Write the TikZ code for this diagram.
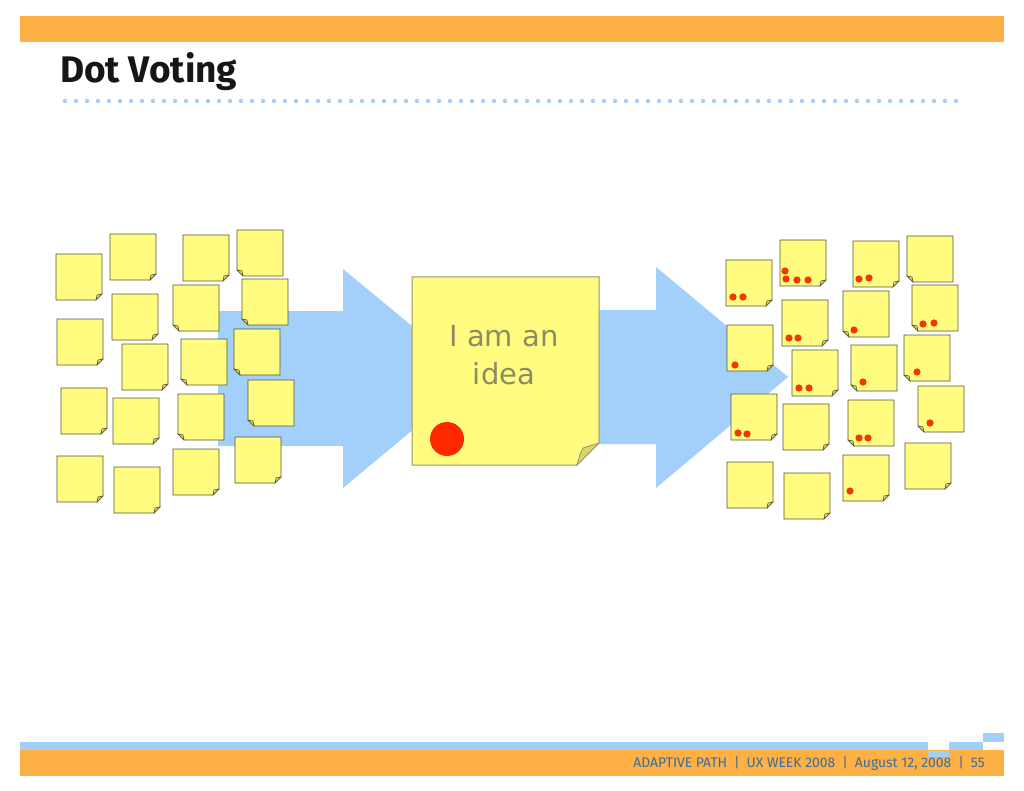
\documentclass[tikz,border=0pt]{standalone}
\usepackage{fontspec}
\setmainfont{Fira Sans}
\newfontfamily\notefont{DejaVu Sans}
\definecolor{barorange}{RGB}{253,176,68}
\definecolor{barblue}{RGB}{163,206,246}
\definecolor{arrowblue}{RGB}{163,208,250}
\definecolor{notefill}{RGB}{255,252,128}
\definecolor{notefold}{RGB}{222,210,110}
\definecolor{noteline}{RGB}{85,85,55}
\definecolor{bigline}{RGB}{150,150,110}
\definecolor{dotred}{RGB}{240,56,0}
\definecolor{ideared}{RGB}{255,40,0}
\definecolor{ideagray}{RGB}{140,140,100}
\definecolor{footblue}{RGB}{62,108,156}
\definecolor{titleblack}{RGB}{22,22,22}
\newcommand{\footsep}{\hspace{7pt}|\hspace{7pt}}
\tikzset{
  sticky/.pic={
    \filldraw[fill=notefill,draw=noteline,line width=.9pt] (-23,-23) -- (23,-23) -- (23,17) -- (17,23) -- (-23,23) -- cycle;
    \filldraw[fill=notefold,draw=noteline,line width=.6pt] (23,17) -- (17,23) -- (18,18) -- cycle;
  }
}
\begin{document}
\begin{tikzpicture}[x=1pt,y=-1pt]
	\useasboundingbox (0,0) rectangle (1024,791);
	% header
	\fill[barorange] (20,16) rectangle (1004,42);
	\node[anchor=base west,inner sep=0,text=titleblack,font=\bfseries\fontsize{37}{37}\selectfont] (title) at (60,83) {Dot Voting};
	\foreach \i in {0,...,81}
		\fill[barblue] (65+11*\i,101) circle (2.2);
	% arrows
	\fill[arrowblue] (218,311) -- (343,311) -- (343,269) -- (475,378) -- (343,488) -- (343,446) -- (218,446) -- cycle;
	\fill[arrowblue] (590,310) -- (656,310) -- (656,267) -- (788,377) -- (656,488) -- (656,444) -- (590,444) -- cycle;
	% notes, before and after the vote
	\foreach \dx/\dy in {0/0,670/6}
		\foreach \x/\y/\s in {56/254/1,110/234/1,183/235/1,237/230/-1,
			57/319/1,112/294/1,173/285/-1,242/279/-1,
			122/344/1,181/339/-1,234/329/-1,
			61/388/1,113/398/1,178/394/-1,248/380/-1,
			57/456/1,114/467/1,173/449/1,235/437/1}
			\pic[xscale=\s] at (\x+\dx+23,\y+\dy+23) {sticky};
	% votes
	\foreach \p in {(733,297),(743,297),(785,271),(786,279),(797,280),(808,280),
		(859,279),(869,278),(735,365),(789,338),(798,338),(854,330),
		(923,324),(934,323),(799,388),(809,388),(863,382),(917,372),
		(738,433),(747,434),(859,438),(868,438),(930,423),(850,491)}
		\fill[dotred] \p circle (3.6);
	% the idea
	\filldraw[fill=notefill,draw=bigline,line width=1pt] (412,277) -- (599,277) -- (599,443) -- (577,465) -- (412,465) -- cycle;
	\filldraw[fill=notefold,draw=bigline,line width=.8pt] (599,443) .. controls (591,445) .. (583,448) .. controls (580,454) .. (577,465) -- cycle;
	\node[align=center,inner sep=0,text=ideagray,font=\notefont\fontsize{29}{38}\selectfont] (idea) at (504,355) {I am an\\idea};
	\fill[ideared] (447,439) circle (17);
	% footer
	\fill[barblue] (20,742) rectangle (928,750);
	\fill[barorange] (20,750) rectangle (1004,776);
	\fill[barblue] (928,751) rectangle (949,757);
	\fill[barblue] (949,742) rectangle (983,750);
	\fill[barblue] (983,733) rectangle (1004,742);
	\node[anchor=base east,inner sep=0,text=footblue,font=\fontsize{13.9}{15}\selectfont] (footer) at (985,767) {ADAPTIVE PATH\footsep UX WEEK 2008\footsep August 12, 2008\footsep 55};
\end{tikzpicture}
\end{document}
